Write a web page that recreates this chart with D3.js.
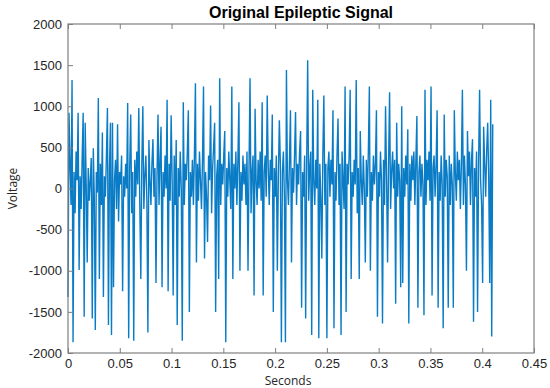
<!DOCTYPE html>
<html>
<head>
<meta charset="utf-8">
<script src="https://cdn.jsdelivr.net/npm/d3@7"></script>
<style>
  body { margin: 0; background: #fff; }
  svg { display: block; }
</style>
</head>
<body>
<div id="chart"></div>
<script>
// Sample rate for the trace (samples per second)
const sampleRate = 1024;

// Voltage samples
const voltage = [
  -1320, 920, 300, -200, 1320, -1870, 200, -300, 450, 100,
  920, -990, 150, -250, 380, 920, -1560, 800, 50, -900,
  250, -150, 100, 370, -1580, 490, -100, -1720, 200, -50,
  1100, -1100, 300, -200, 680, -1320, 150, -100, 400, 980,
  -1660, 250, 800, -1780, 800, -1200, 100, 350, -250, 780,
  -400, 200, 50, 400, -1250, 150, -100, 300, 0, 1040,
  -1820, 250, 900, -300, 200, -1850, 350, -100, 450, 50,
  980, -200, -1100, 300, 1000, -250, 150, 400, -150, -1750,
  590, 100, -200, 300, 600, -100, 250, -1150, 150, 900,
  -200, 350, 750, -1200, 200, -100, 400, 0, 1080, -1250,
  300, -150, 890, 100, -1300, 400, -200, 590, -1660, 250,
  -100, 450, 0, -1850, 1050, -200, 300, 100, 450, 950,
  -1500, 200, -100, 350, -200, 400, 1280, -900, 300, -150,
  450, 100, -250, 350, 1240, -850, 200, -100, -650, 400,
  100, 1010, -300, 250, 500, 800, -1500, 150, 350, -1100,
  1340, -200, 300, 50, 400, 700, -1870, 250, -100, 450,
  100, -250, 1240, -1100, 300, 0, 450, -200, 350, 1050,
  -1000, 200, -150, 400, 50, 300, -200, 450, -1000, 250,
  1340, -300, 200, 400, -1300, 970, 100, -200, 350, 0,
  450, -150, 1050, -1300, 200, 400, -100, 1130, 250, -200,
  350, 100, 900, -1500, 250, -100, 400, -1000, 150, 830,
  300, -1870, 200, 450, -100, -1870, 1440, 100, -200, 350,
  950, -900, 250, -50, 400, 930, -200, 300, 50, 450,
  700, -1450, 200, -100, 400, -1580, 300, 1560, -150, 250,
  450, -1780, 1200, 100, -200, 350, 0, 1080, -1820, 300,
  -100, -850, 400, 1130, -200, 300, -1820, 250, 450, -100,
  350, 50, 950, -1700, 200, -150, 400, 850, -200, 300,
  -1780, 450, 100, -250, 1240, -1500, 300, 50, 400, 1200,
  -1100, 200, -100, 350, 50, 1320, -300, 250, -1100, 700,
  100, -200, 400, 0, -900, 350, -100, 450, 1240, -1000,
  200, -150, 400, 50, 300, 950, -1560, 200, -100, 450,
  100, -1640, 350, -200, 1000, 150, -900, 300, 1170, -250,
  200, 450, 0, 350, -1400, 800, -100, 300, 100, -1200,
  1000, -1150, 250, -100, 400, 50, 720, -1640, 300, -150,
  400, 100, 450, -200, 350, 880, -1450, 200, 400, -100,
  300, 50, -1540, 1200, -200, 350, 100, 450, -150, 1240,
  -1300, 250, 400, -100, 300, 950, -1450, 200, -150, 400,
  50, -1700, 900, -100, 350, 150, -1450, 400, -200, 300,
  50, -1450, 950, 200, -150, 450, 100, 350, -250, 300,
  1200, -200, 400, 50, -1000, 700, 150, 450, -200, 350,
  600, -1620, 250, -100, 450, -1500, 300, 1200, 100, -200,
  -1150, 750, 300, -100, 450, 800, 150, -1150, 1080, -1800,
  780
];

// Axis ticks
const xTicks = [0, 0.05, 0.1, 0.15, 0.2, 0.25, 0.3, 0.35, 0.4, 0.45];
const yTicks = [-2000, -1500, -1000, -500, 0, 500, 1000, 1500, 2000];

const data = voltage.map((v, i) => ({ t: i / sampleRate, v }));

const margin = { top: 24, right: 16, bottom: 35, left: 68 };
const W = 550, H = 388;
const width = W - margin.left - margin.right;
const height = H - margin.top - margin.bottom;

const svg = d3
  .select("#chart")
  .append("svg")
  .attr("width", W)
  .attr("height", H);

const g = svg
  .append("g")
  .attr("transform", `translate(${margin.left},${margin.top})`);

const x = d3.scaleLinear().domain([0, 0.45]).range([0, width]);
const y = d3.scaleLinear().domain([-2000, 2000]).range([height, 0]);

const axisColor = "#7f7f7f";
const textColor = "#262626";

// Signal trace
const line = d3
  .line()
  .x((d) => x(d.t))
  .y((d) => y(d.v));

g.append("path")
  .datum(data)
  .attr("fill", "none")
  .attr("stroke", "#0a7cc6")
  .attr("stroke-width", 1.4)
  .attr("stroke-linejoin", "miter")
  .attr("d", line);

// Box frame
g.append("rect")
  .attr("width", width)
  .attr("height", height)
  .attr("fill", "none")
  .attr("stroke", axisColor)
  .attr("stroke-width", 1.2);

// Bottom axis, ticks pointing inward
const xAxis = g
  .append("g")
  .attr("transform", `translate(0,${height})`)
  .call(
    d3.axisBottom(x)
      .tickValues(xTicks)
      .tickSizeInner(-5)
      .tickSizeOuter(0)
      .tickPadding(6)
      .tickFormat((d) => String(+d.toFixed(2)))
  );

// Top ticks only
const xTop = g
  .append("g")
  .call(
    d3.axisTop(x)
      .tickValues(xTicks)
      .tickSizeInner(-5)
      .tickSizeOuter(0)
      .tickFormat("")
  );

// Left axis
const yAxis = g
  .append("g")
  .call(
    d3.axisLeft(y)
      .tickValues(yTicks)
      .tickSizeInner(-5)
      .tickSizeOuter(0)
      .tickPadding(6)
      .tickFormat((d) => String(d))
  );

[xAxis, xTop, yAxis].forEach((a) => {
  a.select(".domain").remove();
  a.selectAll(".tick line").attr("stroke", axisColor);
  a.selectAll("text")
    .attr("fill", textColor)
    .style("font-family", "'Liberation Sans', Arial, sans-serif")
    .style("font-size", "13px");
});

// Title
svg
  .append("text")
  .attr("x", margin.left + width / 2)
  .attr("y", 18)
  .attr("text-anchor", "middle")
  .attr("fill", "#000")
  .style("font-family", "'Liberation Sans', Arial, sans-serif")
  .style("font-weight", "bold")
  .style("font-size", "16px")
  .text("Original Epileptic Signal");

// Axis labels
svg
  .append("text")
  .attr("x", 288)
  .attr("y", 385)
  .attr("text-anchor", "middle")
  .attr("fill", textColor)
  .style("font-family", "'Open Sans', sans-serif")
  .style("font-size", "12px")
  .text("Seconds");

svg
  .append("text")
  .attr("transform", `translate(17,${margin.top + height / 2}) rotate(-90)`)
  .attr("text-anchor", "middle")
  .attr("fill", textColor)
  .style("font-family", "'Open Sans', sans-serif")
  .style("font-size", "12px")
  .text("Voltage");
</script>
</body>
</html>
